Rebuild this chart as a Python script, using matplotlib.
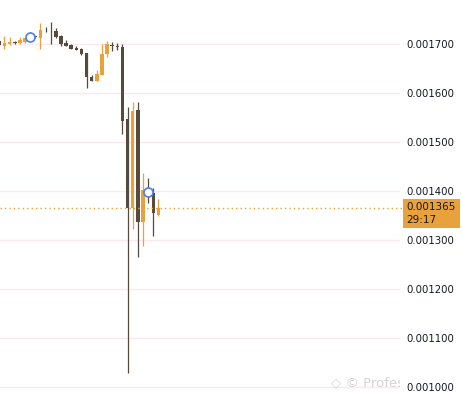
import matplotlib
matplotlib.use("Agg")
import matplotlib.pyplot as plt
from matplotlib.patches import Rectangle
import numpy as np

# candle data, oldest first
opens = [0.0017061, 0.0016959, 0.0017000, 0.0017041, 0.0017020, 0.0017041,
         0.0017153, 0.0017143, 0.0017122, 0.0017292, 0.0017292, 0.0017265,
         0.0017163, 0.0017020, 0.0016980, 0.0016918, 0.0016898, 0.0016816,
         0.0016327, 0.0016245, 0.0016367, 0.0016796, 0.0016980, 0.0016959,
         0.0016939, 0.0015469, 0.0013659, 0.0015653, 0.0013373, 0.0014020,
         0.0013959, 0.0013510]
highs = [0.0017082, 0.0017163, 0.0017143, 0.0017061, 0.0017143, 0.0017143,
         0.0017255, 0.0017163, 0.0017429, 0.0017347, 0.0017449, 0.0017327,
         0.0017184, 0.0017082, 0.0017000, 0.0016959, 0.0016918, 0.0016816,
         0.0016367, 0.0016469, 0.0017000, 0.0017061, 0.0017031, 0.0017020,
         0.0017000, 0.0015714, 0.0015816, 0.0015816, 0.0014367, 0.0014265,
         0.0014061, 0.0013837]
lows = [0.0016959, 0.0016898, 0.0016980, 0.0017000, 0.0017010, 0.0017020,
        0.0017122, 0.0017122, 0.0016898, 0.0017245, 0.0017000, 0.0017122,
        0.0016959, 0.0016959, 0.0016898, 0.0016878, 0.0016776, 0.0016102,
        0.0016245, 0.0016245, 0.0016367, 0.0016735, 0.0016857, 0.0016878,
        0.0015163, 0.0010286, 0.0013224, 0.0012653, 0.0012878, 0.0013755,
        0.0013082, 0.0013490]
closes = [0.0016980, 0.0017020, 0.0017041, 0.0017027, 0.0017082, 0.0017122,
          0.0017133, 0.0017143, 0.0017286, 0.0017280, 0.0017280, 0.0017143,
          0.0017000, 0.0016959, 0.0016898, 0.0016878, 0.0016796, 0.0016327,
          0.0016245, 0.0016388, 0.0016796, 0.0017000, 0.0016959, 0.0016929,
          0.0015429, 0.0013653, 0.0015639, 0.0013373, 0.0014020, 0.0013939,
          0.0013551, 0.0013653]

# event markers: candle index and price
marker_idx = [6, 29]
marker_price = [0.0017143, 0.0013973]

last_price = 0.001365
countdown = "29:17"
price_ticks = [0.0010, 0.0011, 0.0012, 0.0013, 0.0014, 0.0015, 0.0016, 0.0017]

up_col = '#e9a23b'
down_col = '#564a3c'
grid_col = '#fce9ef'
text_col = '#131722'

fig = plt.figure(figsize=(4.62, 4.01), dpi=100)
ax = fig.add_axes([0, 0, 400 / 462, 1])

o = np.array(opens)
h = np.array(highs)
l = np.array(lows)
c = np.array(closes)
x = np.arange(len(o))
colors = [up_col if cc > oo else down_col for oo, cc in zip(o, c)]

# wicks
ax.vlines(x, l, h, colors=colors, linewidth=0.9, zorder=2)
# bodies (minimum height so dojis still show)
min_h = 1.4e-6
bottom = np.minimum(o, c)
height = np.maximum(np.abs(c - o), min_h)
ax.bar(x, height, bottom=bottom, width=0.68, color=colors, linewidth=0, zorder=3)

# markers
ax.scatter(marker_idx, marker_price, s=42, facecolor='white', edgecolor='#4d7ff0',
           linewidth=1.2, zorder=5)

# last price line
ax.axhline(last_price, xmin=0, xmax=403 / 400, color=up_col, linestyle=(0, (1, 2.2)),
           linewidth=1, clip_on=False, zorder=4)

ax.set_xlim(0.123, 78.1)
ax.set_ylim(0.00097143, 0.0017898)

ax.set_yticks(price_ticks)
ax.set_yticklabels([f"{p:.6f}" for p in price_ticks])
ax.yaxis.tick_right()
ax.tick_params(axis='y', length=0, pad=4.5, labelsize=7.3, labelcolor=text_col)
ax.set_xticks([])
ax.grid(axis='y', color=grid_col, linewidth=1)
ax.set_axisbelow(True)
for s in ax.spines.values():
    s.set_visible(False)

# watermark, cut at the pane edge like the original
ax.text(331 / 400, 1 - 383 / 401, "\u25c7 \u00a9 Profess", transform=ax.transAxes,
        fontsize=9.5, color='#d4d4d4', va='center', ha='left', clip_on=True, zorder=1)

# price label box on the scale
fig.patches.append(Rectangle((403 / 462, 1 - 228 / 401), 57 / 462, 29 / 401,
                             transform=fig.transFigure, facecolor=up_col,
                             edgecolor='none', zorder=5))
fig.text(406 / 462, 1 - 207 / 401, f"{last_price:.6f}", fontsize=7.5, color=text_col,
         va='center', ha='left', zorder=6)
fig.text(406 / 462, 1 - 220 / 401, countdown, fontsize=7.5, color=text_col,
         va='center', ha='left', zorder=6)

fig.savefig("out.png", dpi=100)
